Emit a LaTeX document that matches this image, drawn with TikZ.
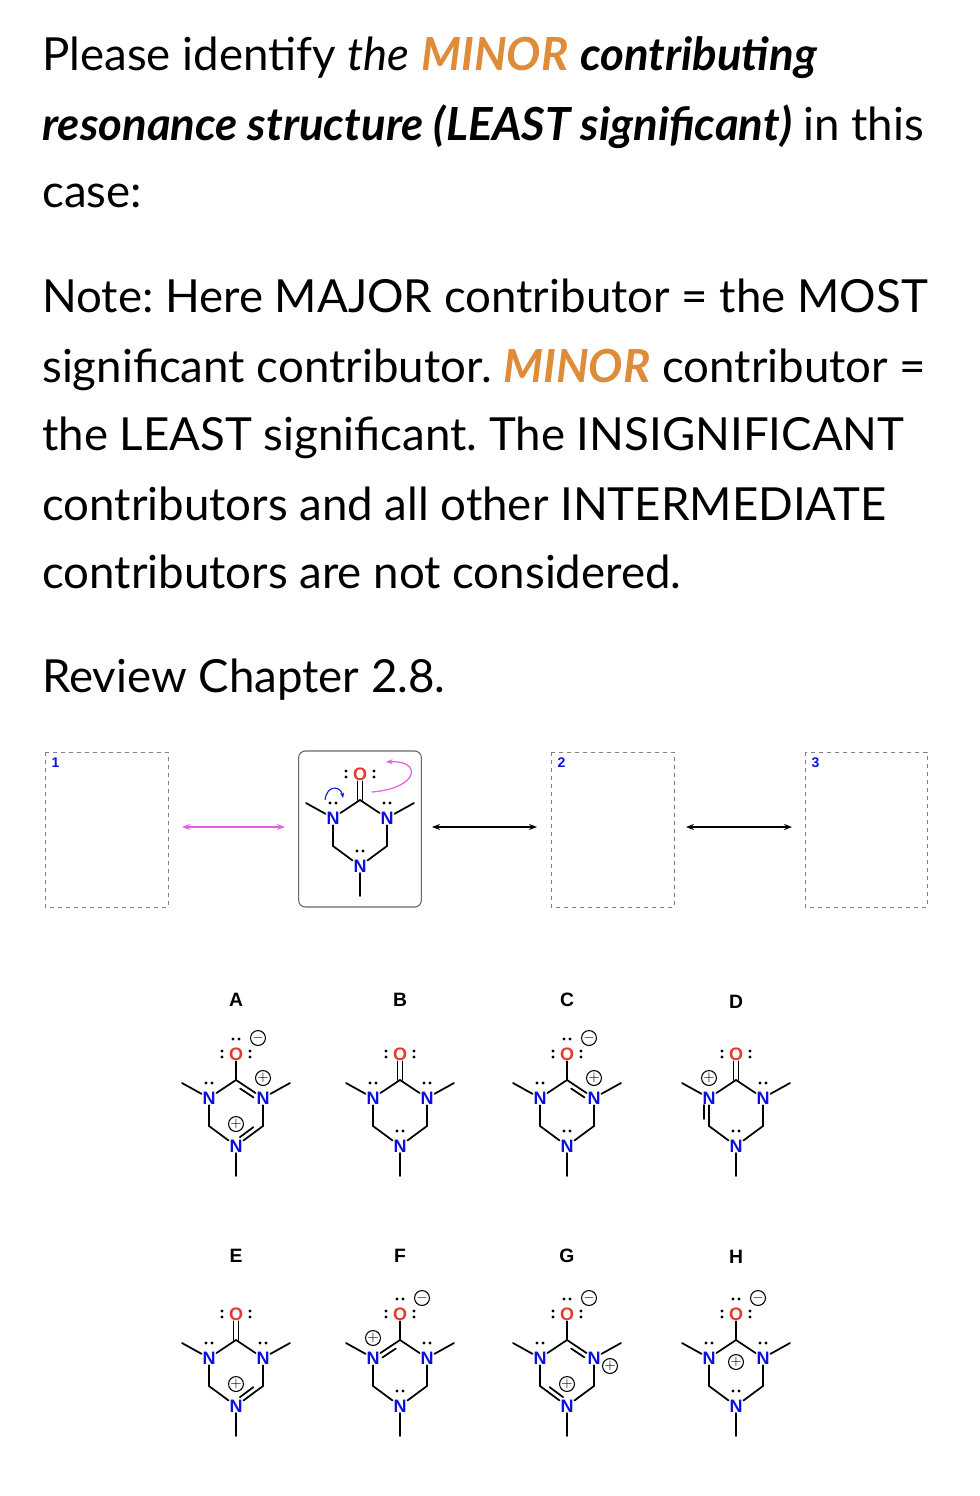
\documentclass[tikz,border=0pt]{standalone}
\usepackage{fontspec}
\setmainfont{Lato}
\newfontfamily\chem{Liberation Sans}
\usetikzlibrary{calc,arrows.meta}
\definecolor{orng}{HTML}{DE8C3A}
\definecolor{nblue}{HTML}{0A10E0}
\definecolor{ored}{HTML}{E53B2C}
\definecolor{magen}{HTML}{E060E0}
\frenchspacing
\tikzset{
  txt/.style={anchor=base west,inner sep=0pt,font=\fontsize{34.2pt}{40pt}\selectfont},
  atomN/.style={inner sep=0.5pt,font=\chem\bfseries\fontsize{13.5pt}{13.5pt}\selectfont,text=nblue},
  atomO/.style={inner sep=0.5pt,font=\chem\bfseries\fontsize{13.5pt}{13.5pt}\selectfont,text=ored},
  bond/.style={line width=1.3pt,line cap=round},
  chg/.style={circle,draw,line width=0.8pt,inner sep=0pt,minimum size=10.5pt,font=\chem\fontsize{11pt}{11pt}\selectfont},
  lbl/.style={font=\chem\bfseries\fontsize{14.5pt}{14.5pt}\selectfont},
  dbox/.style={draw=gray,dashed,line width=0.6pt},
  num/.style={anchor=north west,font=\chem\bfseries\fontsize{10.5pt}{10.5pt}\selectfont,text=nblue,inner sep=1pt}
}
\newcommand\dotsz{1.6}
\newcommand\lph[2]{\fill ($(#1)+(#2)+(-3,0)$) circle (\dotsz); \fill ($(#1)+(#2)+(3,0)$) circle (\dotsz);}
\newcommand\lpv[2]{\fill ($(#1)+(#2)+(0,-3)$) circle (\dotsz); \fill ($(#1)+(#2)+(0,3)$) circle (\dotsz);}
\newcommand\mol[3]{
  \begin{scope}[shift={(#2,#3)}]
  \coordinate (#1C) at (0,0);
  \node[atomO] (#1O) at (0,-26) {O};
  \node[atomN] (#1L) at (-27,18) {N};
  \node[atomN] (#1R) at (27,18) {N};
  \node[atomN] (#1B) at (0,66) {N};
  \coordinate (#1cl) at (-27,46);
  \coordinate (#1cr) at (27,46);
  \coordinate (#1mL) at (-54,3);
  \coordinate (#1mR) at (54,3);
  \coordinate (#1mB) at (0,96);
  \end{scope}
  \draw[bond] (#1L) -- (#1C) -- (#1R);
  \draw[bond] (#1L) -- (#1cl) -- (#1B) -- (#1cr) -- (#1R);
  \draw[bond] (#1L) -- (#1mL);
  \draw[bond] (#1R) -- (#1mR);
  \draw[bond] (#1B) -- (#1mB);
  \lpv{#1O}{-14,0} \lpv{#1O}{14,0}
}
\newcommand\co[1]{\draw[bond] ($(#1C)+(-2.5,0)$) -- ($(#1O.south)+(-2.5,0)$); \draw[bond] ($(#1C)+(2.5,0)$) -- ($(#1O.south)+(2.5,0)$);}
\newcommand\csingle[1]{\draw[bond] (#1C) -- (#1O); \lph{#1O}{0,-15} \node[chg] at ($(#1O)+(22,-16)$) {$-$};}
\newcommand\inner[3]{\draw[bond] ($(#1)!.25!(#2)!3.6pt!#3:(#2)$) -- ($(#2)!.25!(#1)!3.6pt!-#3:(#1)$);}
\newcommand\plus[1]{\node[chg] at (#1) {$+$};}
\begin{document}
\begin{tikzpicture}[x=0.75pt,y=-0.75pt]
\useasboundingbox (0,0) rectangle (980,1496);
\fill[white] (0,0) rectangle (980,1496);
\node[txt] at (42,70) {Please identify \textit{the} \textcolor{orng}{\textbf{\textit{MINOR}}} \textbf{\textit{contributing}}};
\node[txt] at (42,140) {\textbf{\textit{resonance structure (LEAST significant)}} in this};
\node[txt] at (42,207) {case:};
\node[txt] at (42,312) {Note: Here MAJOR contributor = the MOST};
\node[txt] at (42,382) {significant contributor. \textcolor{orng}{\textbf{\textit{MINOR}}} contributor =};
\node[txt] at (42,450) {the LEAST significant. The INSIGNIFICANT};
\node[txt] at (42,520) {contributors and all other INTERMEDIATE};
\node[txt] at (42,588) {contributors are not considered.};
\node[txt] at (42,692) {Review Chapter 2.8.};
\draw[dbox] (45,752) rectangle (168,907); \node[num] at (50,756) {1};
\draw[dbox] (551,752) rectangle (674,907); \node[num] at (556,756) {2};
\draw[dbox] (805,752) rectangle (927,907); \node[num] at (810,756) {3};
\node[draw=gray!80!black,line width=0.8pt,rounded corners=5pt,minimum width=92pt,minimum height=117pt] (mainbox) at (360,829) {};
\draw[magen,line width=0.9pt,{Stealth[length=6pt]}-{Stealth[length=6pt]}] (182,827) -- (285,827);
\draw[line width=0.9pt,{Stealth[length=6pt]}-{Stealth[length=6pt]}] (432,827) -- (537,827);
\draw[line width=0.9pt,{Stealth[length=6pt]}-{Stealth[length=6pt]}] (686,827) -- (792,827);
\mol{T}{360}{800} \co{T}
\lph{TL}{0,-15} \lph{TR}{0,-15} \lph{TB}{0,-15}
\draw[nblue,line width=0.8pt,-{Stealth[length=4pt]}] ($(TL)+(-8,-18)$) .. controls ($(TL)+(-6,-34)$) and ($(TL)+(8,-32)$) .. ($(TL)+(10,-20)$);
\draw[magen,line width=0.9pt,-{Stealth[length=5pt]}] ($(TC)+(12,-8)$) .. controls ($(TC)+(60,-12)$) and ($(TC)+(62,-40)$) .. ($(TC)+(26,-38)$);
\node[lbl] at (236,1000) {A}; \node[lbl] at (400,1000) {B}; \node[lbl] at (567,1000) {C}; \node[lbl] at (736,1002) {D};
\node[lbl] at (236,1256) {E}; \node[lbl] at (400,1256) {F}; \node[lbl] at (567,1256) {G}; \node[lbl] at (736,1257) {H};
\mol{A}{236}{1080} \csingle{A}
\lph{AL}{0,-15} \inner{AC}{AR}{-90} \plus{$(AR)+(0,-20)$} \inner{AB}{Acr}{90} \plus{$(AB)+(0,-22)$}
\mol{B}{400}{1080} \co{B}
\lph{BL}{0,-15} \lph{BR}{0,-15} \lph{BB}{0,-15}
\mol{C}{567}{1080} \csingle{C}
\lph{CL}{0,-15} \inner{CC}{CR}{-90} \plus{$(CR)+(0,-20)$} \lph{CB}{0,-15}
\mol{D}{736}{1080} \co{D}
\plus{$(DL)+(0,-20)$} \inner{DL}{Dcl}{-90} \lph{DR}{0,-15} \lph{DB}{0,-15}
\mol{E}{236}{1340} \co{E}
\lph{EL}{0,-15} \lph{ER}{0,-15} \inner{EB}{Ecr}{90} \plus{$(EB)+(0,-22)$}
\mol{F}{400}{1340} \csingle{F}
\plus{$(FL)+(0,-20)$} \inner{FC}{FL}{90} \lph{FR}{0,-15} \lph{FB}{0,-15}
\mol{G}{567}{1340} \csingle{G}
\lph{GL}{0,-15} \inner{GC}{GR}{-90} \plus{$(GR)+(16,8)$} \inner{GB}{Gcl}{-90} \plus{$(GB)+(0,-22)$}
\mol{H}{736}{1340} \csingle{H}
\lph{HL}{0,-15} \lph{HR}{0,-15} \lph{HB}{0,-15} \plus{$(HC)+(0,22)$}
\end{tikzpicture}
\end{document}
